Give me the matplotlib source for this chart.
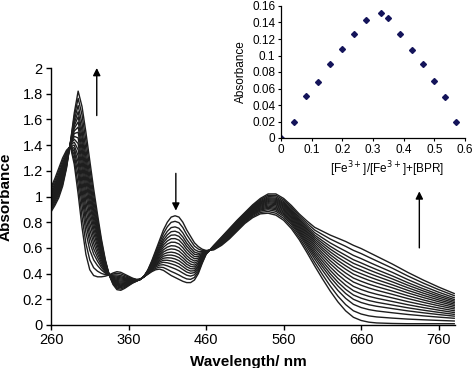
import numpy as np
import matplotlib
matplotlib.use("Agg")
import matplotlib.pyplot as plt
from matplotlib.ticker import FuncFormatter

plt.rcParams['font.family'] = ['Liberation Sans', 'DejaVu Sans']

# ---------------- data ----------------
wavelength = [260, 265, 270, 275, 280, 285, 290, 295, 300, 305, 310, 315, 320, 325, 330,
              335, 340, 345, 350, 355, 360, 365, 370, 375, 380, 385, 390, 395, 400, 405,
              410, 415, 420, 425, 430, 435, 440, 445, 450, 455, 460, 470, 480, 490, 500,
              510, 520, 530, 540, 550, 560, 570, 580, 590, 600, 610, 620, 630, 640, 650,
              660, 670, 680, 700, 720, 740, 760, 780]

# spectrum of free ligand (first curve of the titration)
abs_start = [1.07, 1.14, 1.22, 1.30, 1.36, 1.39, 1.25, 1.02, 0.76, 0.55, 0.43, 0.385, 0.375, 0.375, 0.38,
             0.39, 0.405, 0.415, 0.41, 0.395, 0.38, 0.365, 0.355, 0.355, 0.38, 0.43, 0.50, 0.58, 0.66, 0.74,
             0.80, 0.84, 0.85, 0.84, 0.80, 0.74, 0.69, 0.64, 0.61, 0.59, 0.58, 0.585, 0.62, 0.67, 0.73,
             0.79, 0.835, 0.865, 0.87, 0.855, 0.815, 0.75, 0.665, 0.565, 0.46, 0.36, 0.265, 0.18, 0.11, 0.06,
             0.035, 0.022, 0.016, 0.012, 0.01, 0.01, 0.01, 0.01]

# spectrum at the end of the titration (last curve)
abs_end = [0.88, 0.93, 0.99, 1.08, 1.22, 1.42, 1.65, 1.82, 1.70, 1.50, 1.28, 1.06, 0.86, 0.67, 0.51,
           0.39, 0.315, 0.275, 0.27, 0.285, 0.305, 0.325, 0.34, 0.355, 0.375, 0.395, 0.415, 0.43, 0.435, 0.425,
           0.405, 0.385, 0.37, 0.355, 0.34, 0.33, 0.33, 0.35, 0.40, 0.48, 0.55, 0.62, 0.685, 0.75, 0.815,
           0.875, 0.935, 0.985, 1.02, 1.02, 0.985, 0.93, 0.865, 0.81, 0.76, 0.73, 0.70, 0.675, 0.65, 0.62,
           0.595, 0.565, 0.535, 0.475, 0.41, 0.35, 0.295, 0.245]

titration_fraction = [0.0, 0.09, 0.18, 0.25, 0.31, 0.37, 0.43, 0.49, 0.545, 0.6,
                      0.65, 0.7, 0.75, 0.8, 0.86, 0.93, 1.0]

# Job's plot (inset)
job_x = [0.0, 0.041, 0.081, 0.120, 0.161, 0.199, 0.239, 0.276, 0.325, 0.350,
         0.388, 0.426, 0.462, 0.498, 0.536, 0.571]
job_y = [0.0, 0.019, 0.051, 0.068, 0.090, 0.108, 0.126, 0.143, 0.152, 0.145,
         0.126, 0.107, 0.090, 0.069, 0.050, 0.019]

main_xticks = [260, 360, 460, 560, 660, 760]
main_yticks = [0, 0.2, 0.4, 0.6, 0.8, 1.0, 1.2, 1.4, 1.6, 1.8, 2.0]
inset_xticks = [0, 0.1, 0.2, 0.3, 0.4, 0.5, 0.6]
inset_yticks = [0, 0.02, 0.04, 0.06, 0.08, 0.1, 0.12, 0.14, 0.16]

# ---------------- figure ----------------
W, H = 474, 368
fig = plt.figure(figsize=(W / 100, H / 100), dpi=100)
gfmt = FuncFormatter(lambda v, p: '%g' % round(v, 4))

ax = fig.add_axes([51 / W, 1 - 325 / H, (455 - 51) / W, (325 - 68) / H])
wl = np.array(wavelength)
a0 = np.array(abs_start)
a1 = np.array(abs_end)
for f in titration_fraction:
    ax.plot(wl, a0 + f * (a1 - a0), color='#1e1e1e', lw=1.0)

ax.set_xlim(260, 781)
ax.set_ylim(0, 2)
ax.set_xticks(main_xticks)
ax.set_yticks(main_yticks)
ax.xaxis.set_major_formatter(gfmt)
ax.yaxis.set_major_formatter(gfmt)
for s in ['top', 'right']:
    ax.spines[s].set_visible(False)
for s in ['left', 'bottom']:
    ax.spines[s].set_linewidth(1.0)
ax.tick_params(direction='out', length=3.5, width=1.0, labelsize=10.5, pad=2.5)
ax.set_xlabel('Wavelength/ nm', fontsize=11, fontweight='bold')
ax.xaxis.set_label_coords(0.488, -0.115)
ax.set_ylabel('Absorbance', fontsize=11, fontweight='bold')
ax.yaxis.set_label_coords(-0.095, 0.5)

arrow = dict(arrowstyle='-|>', color='black', lw=1.0, mutation_scale=11, shrinkA=0, shrinkB=0)
ax.annotate('', xy=(319, 2.0), xytext=(319, 1.63), arrowprops=arrow)
ax.annotate('', xy=(421, 0.89), xytext=(421, 1.18), arrowprops=arrow)
ax.annotate('', xy=(735, 1.04), xytext=(735, 0.60), arrowprops=arrow)

# inset
ins = fig.add_axes([281 / W, 1 - 138 / H, (465 - 281) / W, (138 - 6) / H])
ins.patch.set_alpha(0)
ins.plot(job_x, job_y, linestyle='none', marker='D', markersize=3.0, color='#14145a')
ins.set_xlim(0, 0.6)
ins.set_ylim(0, 0.16)
ins.set_xticks(inset_xticks)
ins.set_yticks(inset_yticks)
ins.xaxis.set_major_formatter(gfmt)
ins.yaxis.set_major_formatter(gfmt)
for s in ['top', 'right']:
    ins.spines[s].set_visible(False)
for s in ['left', 'bottom']:
    ins.spines[s].set_linewidth(0.9)
ins.tick_params(direction='out', length=2.5, width=0.8, labelsize=8.5, pad=1.5)
ins.set_xlabel(r'[Fe$^{3+}$]/[Fe$^{3+}$]+[BPR]', fontsize=8.5)
ins.xaxis.set_label_coords(0.575, -0.165)
ins.set_ylabel('Absorbance', fontsize=8.5)
ins.yaxis.set_label_coords(-0.185, 0.5)

fig.savefig('out.png', dpi=100)
